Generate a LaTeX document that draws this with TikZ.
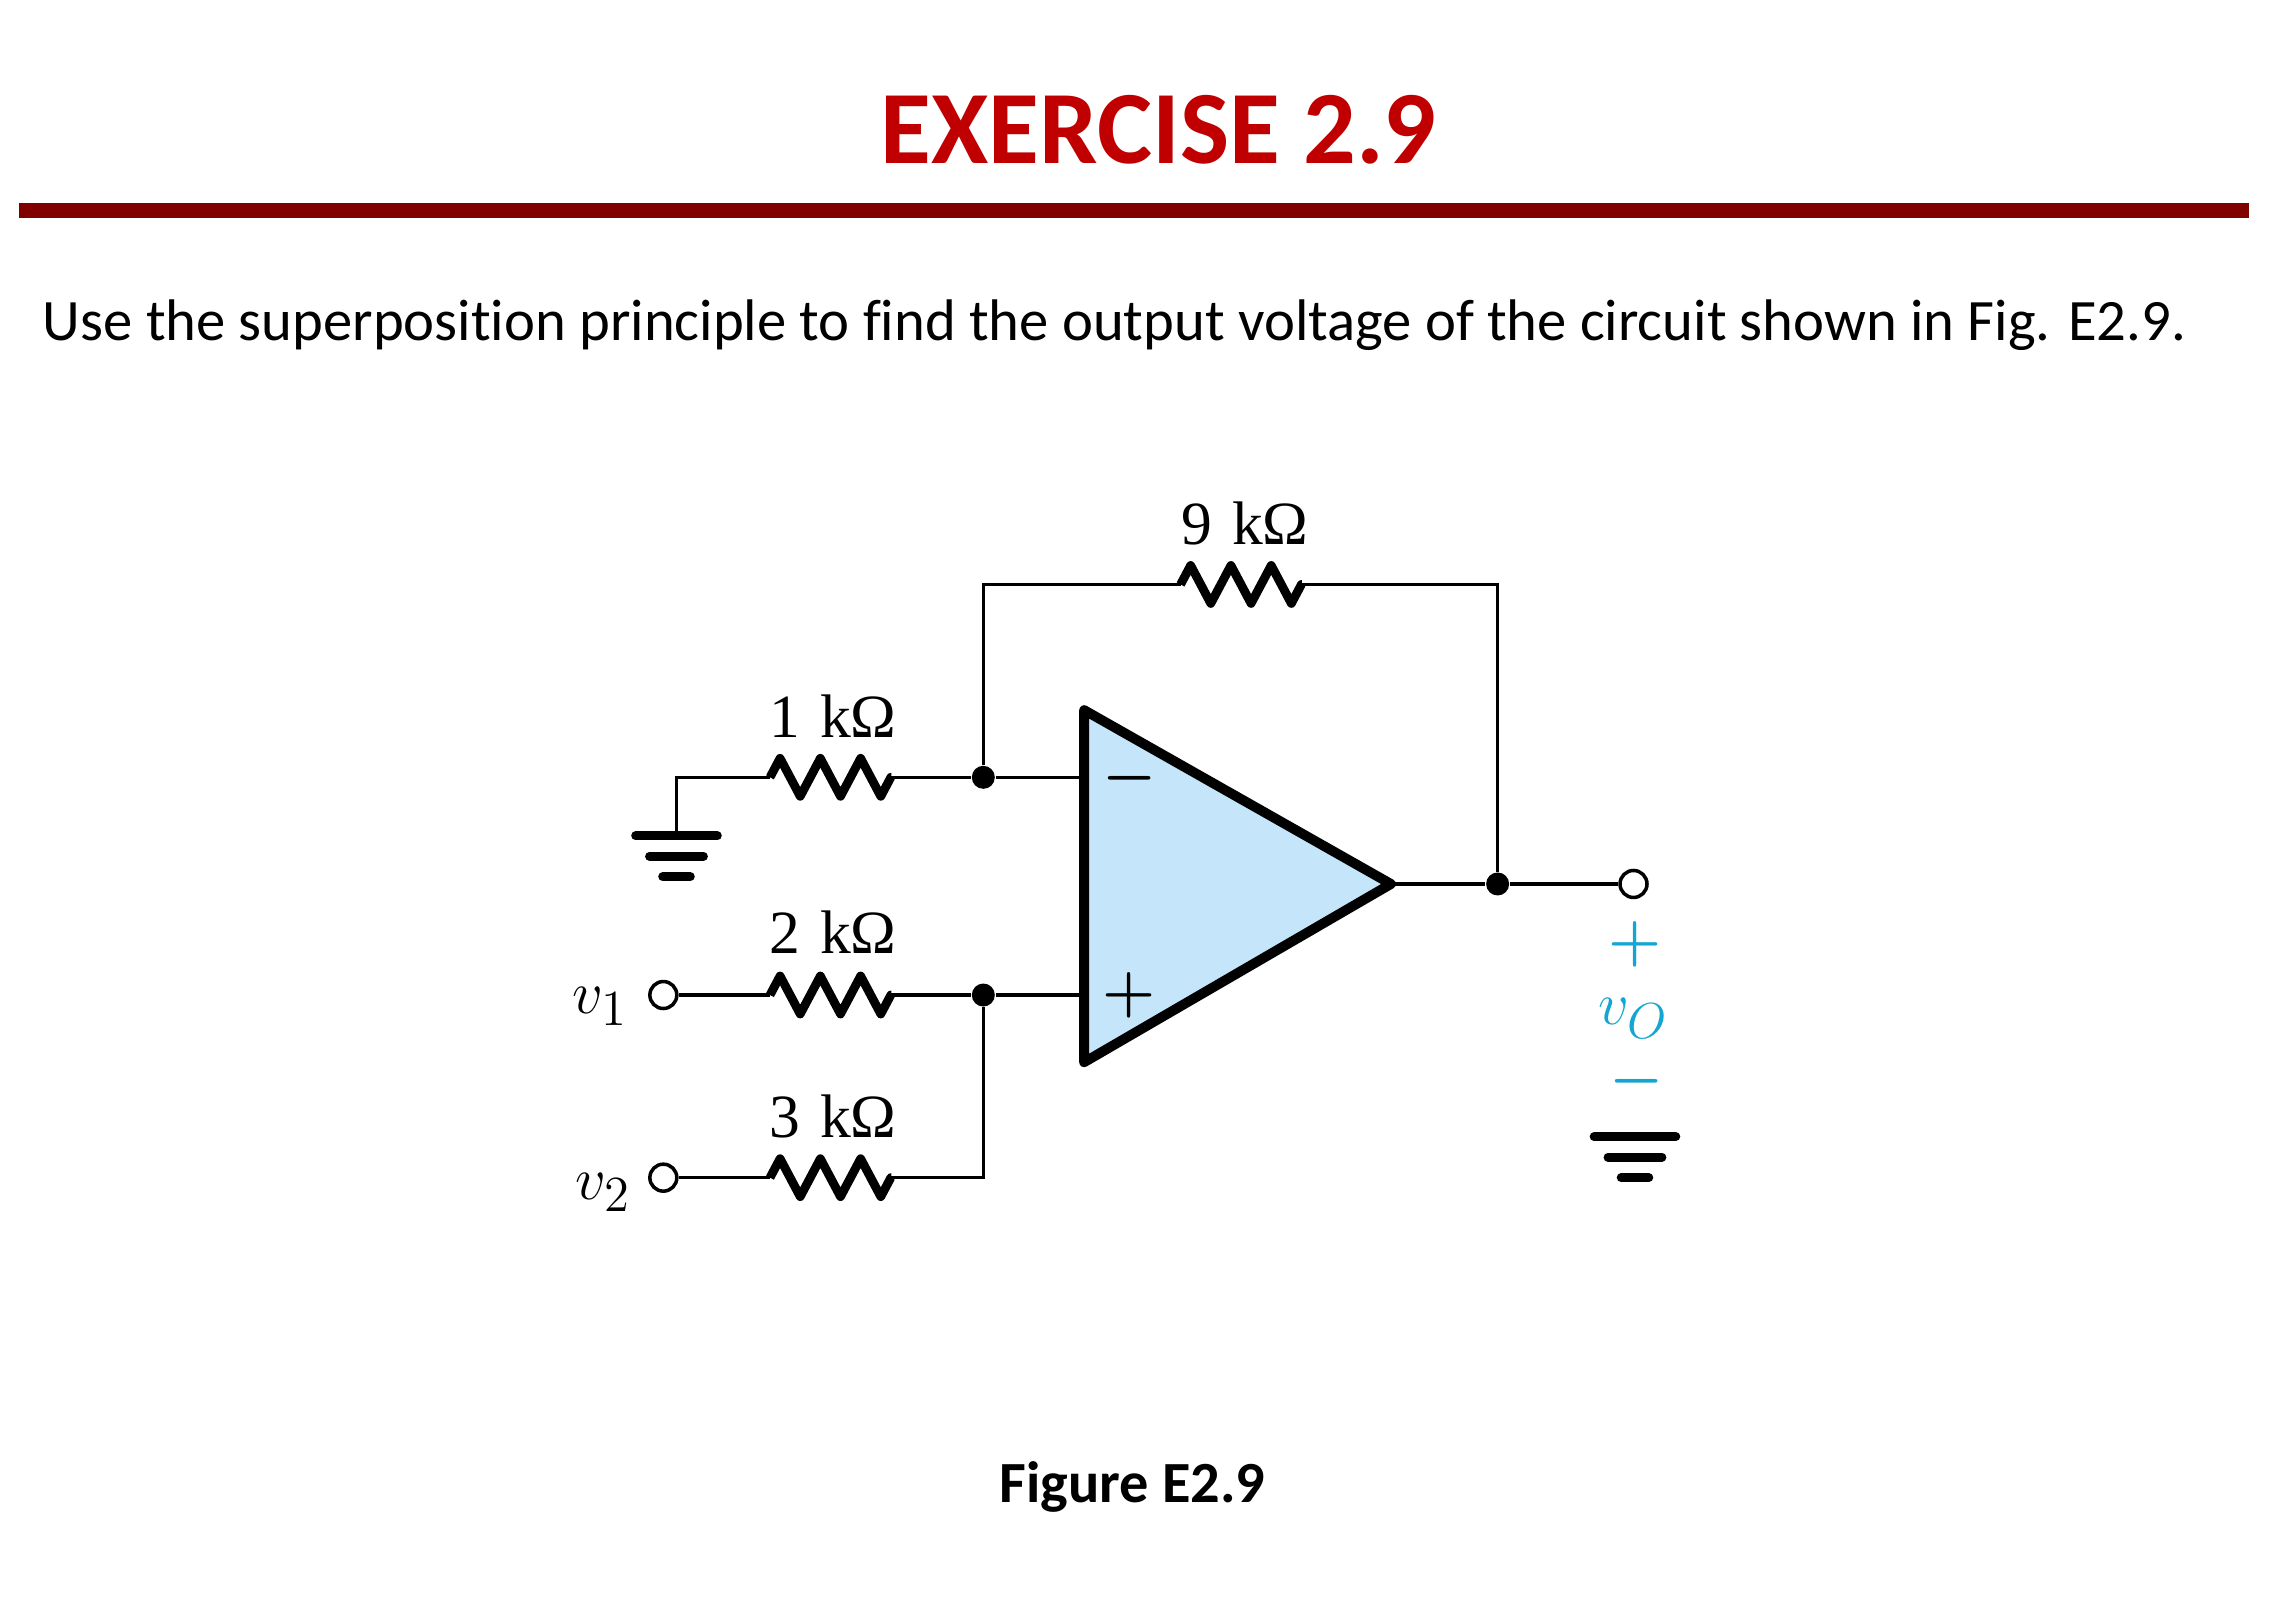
\documentclass[tikz,border=0pt]{standalone}
\usepackage{amsmath, amssymb}
\usepackage{fontspec}
\usetikzlibrary{decorations.pathmorphing}
\setmainfont{Carlito}[Ligatures=CommonOff]
\newfontfamily\cktfont{Liberation Serif}
\definecolor{titlered}{RGB}{192,0,0}
\definecolor{rulered}{RGB}{128,0,0}
\definecolor{opblue}{RGB}{196,229,250}
\definecolor{vocyan}{RGB}{20,165,210}
\tikzset{
	wire/.style = {line width = 1pt},
	res/.style = {line width = 2.5pt, line join = round, decorate, decoration = {zigzag, segment length = .403cm, amplitude = .19cm}},
	dot/.style = {circle, fill, inner sep = 0pt, minimum size = .23cm},
	term/.style = {circle, draw, fill = white, line width = 1pt, inner sep = 0pt, minimum size = .27cm},
	rlabel/.style = {font = \cktfont\fontsize{17.5}{20}\selectfont},
	gnd/.pic = {
		\draw [line width = 2.5pt, line cap = round] (-28,0) -- (28,0);
		\draw [line width = 2.5pt, line cap = round] (-18.5,14) -- (18.5,14);
		\draw [line width = 2.5pt, line cap = round] (-9.5,28) -- (9.5,28);
	}
}
\begin{document}
\begin{tikzpicture}[x = .014611cm, y = -.014611cm]
		\useasboundingbox (0,0) rectangle (1568,1104);
		
		\node (Title) at (793,112) [anchor = base, text = titlered, font = \bfseries\fontsize{29.6}{36}\selectfont] {EXERCISE 2.9};
		\fill [rulered] (13,139) rectangle (1539,149);
		\node (Stmt) at (763,233) [anchor = base, font = \fontsize{16.7}{24}\selectfont] {Use the superposition principle to find the output voltage of the circuit shown in Fig. E2.9.};
		\node (Fig) at (775,1028) [anchor = base, font = \bfseries\fontsize{16.6}{22}\selectfont] {Figure E2.9};
		
		\coordinate (OpA) at (742,486);
		\coordinate (OpB) at (742,727);
		\coordinate (OpC) at (952,605);
		\coordinate (InM) at (742,532);
		\coordinate (InP) at (742,681);
		\draw [fill = opblue, line width = 2.8pt, line join = round] (OpA) -- (OpB) -- (OpC) -- cycle;
		\node (Minus) at (773,533) [font = \boldmath\fontsize{16}{20}\selectfont] {$-$};
		\node (Plus) at (773,681) [font = \boldmath\fontsize{16}{20}\selectfont] {$+$};
		
		\node (N1) at (673,532) [dot] {};
		\node (N2) at (673,681) [dot] {};
		\node (N3) at (1025,605) [dot] {};
		\node (V1) at (454,681) [term] {};
		\node (V2) at (454,806) [term] {};
		\node (Vo) at (1118,605) [term] {};
		
		\coordinate (R1a) at (527,532);
		\coordinate (R1b) at (610,532);
		\coordinate (R2a) at (527,681);
		\coordinate (R2b) at (610,681);
		\coordinate (R3a) at (527,806);
		\coordinate (R3b) at (610,806);
		\coordinate (R9a) at (808,400);
		\coordinate (R9b) at (891,400);
		\draw [res] (R1a) -- (R1b);
		\draw [res] (R2a) -- (R2b);
		\draw [res] (R3a) -- (R3b);
		\draw [res] (R9a) -- (R9b);
		\node (L1) at (570,490) [rlabel] {1\,\,kΩ};
		\node (L2) at (570,638) [rlabel] {2\,\,kΩ};
		\node (L3) at (570,764) [rlabel] {3\,\,kΩ};
		\node (L9) at (852,358) [rlabel] {9\,\,kΩ};
		
		\coordinate (G1) at (463,572);
		\coordinate (G2) at (1119,778);
		\pic at (G1) {gnd};
		\pic at (G2) {gnd};
		
		\draw [wire] (G1) |- (R1a);
		\draw [wire] (R1b) -- (N1) -- (InM);
		\draw [wire] (V1) -- (R2a);
		\draw [wire] (R2b) -- (N2) -- (InP);
		\draw [wire] (V2) -- (R3a);
		\draw [wire] (R3b) -| (N2);
		\draw [wire] (N1) |- (R9a);
		\draw [wire] (R9b) -| (N3);
		\draw [wire] (OpC) -- (N3) -- (Vo);
		
		\node (Lv1) at (411,689) [font = \fontsize{19}{20}\selectfont] {$v_1$};
		\node (Lv2) at (413,816) [font = \fontsize{19}{20}\selectfont] {$v_2$};
		\node (Vp) at (1119,646) [text = vocyan, font = \boldmath\fontsize{17}{20}\selectfont] {$+$};
		\node (Vv) at (1118,697) [text = vocyan, font = \fontsize{19}{20}\selectfont] {$v_O$};
		\node (Vm) at (1120,740) [text = vocyan, font = \boldmath\fontsize{17}{20}\selectfont] {$-$};
\end{tikzpicture}
\end{document}
